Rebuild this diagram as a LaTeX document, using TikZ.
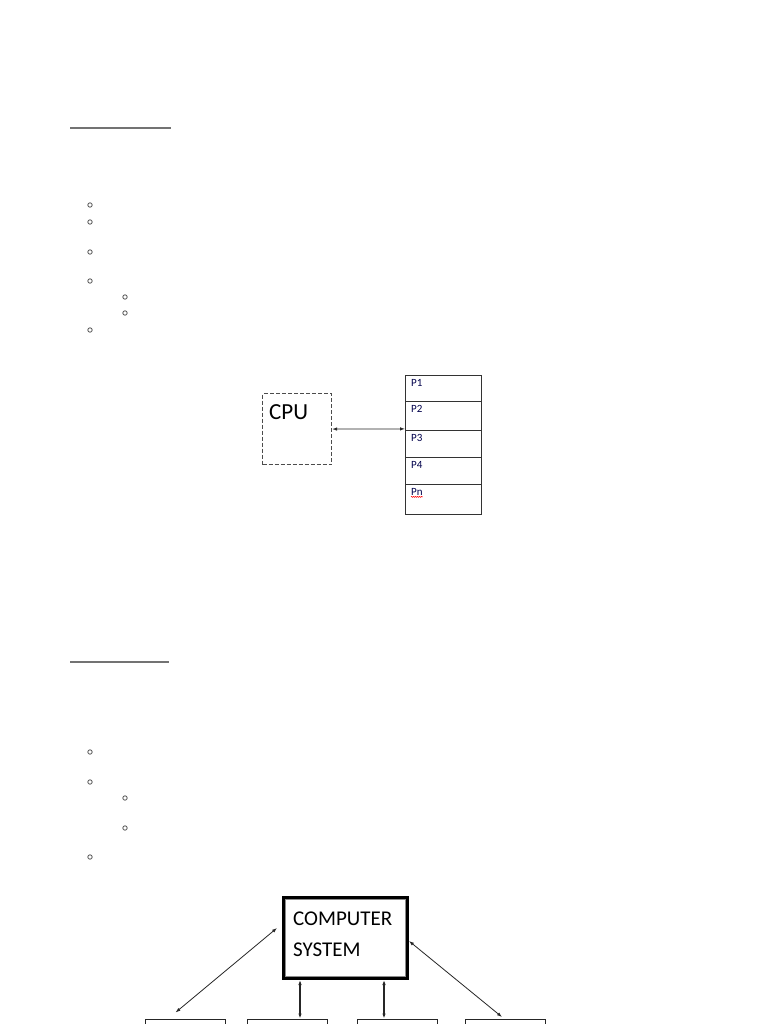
\documentclass[tikz,border=0pt]{standalone}
\usepackage{fontspec}
\setmainfont{Carlito}
\usetikzlibrary{arrows.meta, positioning, decorations.pathmorphing}
\tikzset{>={Latex[length=5pt,width=3.5pt]}}
\usepackage{xcolor}
\colorlet{celltext}{blue!30!black}
\tikzstyle{headrule}=[draw=black!55, line width=1.5]
\tikzstyle{bulletmark}=[draw=black!65, line width=0.8]
\tikzstyle{cpubox}=[draw=black!70, dashed, dash pattern=on 4pt off 2pt, line width=1.1, minimum width=69, minimum height=71, anchor=north west, inner sep=0]
\tikzstyle{cell}=[draw=black!80, line width=0.9, minimum width=76, anchor=north west, inner sep=0]
\tikzstyle{celllabel}=[inner sep=0, text=celltext, font=\fontsize{11}{12}\selectfont]
\tikzstyle{sysbox}=[draw=black, line width=3, minimum width=124, minimum height=81, anchor=north west, align=left, font=\fontsize{21}{31}\selectfont]
\tikzstyle{devbox}=[draw=black!85, line width=1, minimum width=80, minimum height=24, anchor=north west]
\tikzstyle{link}=[<->, draw=black!85, line width=0.8]

\begin{document}
\begin{tikzpicture}[x=1pt, y=-1pt]
		\fill[white] (0,0) rectangle (768,1024);
		\useasboundingbox (0,0) rectangle (768,1024);
		
		% first section
		\draw[headrule] (70,128) -- (171,128);
		\foreach \y in {205,222,252,281,330} \draw[bulletmark] (90,\y) circle (2.2);
		\foreach \y in {297,313} \draw[bulletmark] (125,\y) circle (2.2);
		
		\node[cpubox] (cpu) at (262,393) {};
		\node[anchor=north west, inner sep=0, font=\fontsize{23}{26}\selectfont] (cpulabel) at (269,404) {CPU};
		
		\foreach \name/\lab/\celltop/\cellh in {p1/P1/375/26, p2/P2/401/29, p3/P3/430/27, p4/P4/457/27, pn/Pn/484/30}{
			\node[cell, minimum height=\cellh] (\name) at (405,\celltop) {};
			\node[celllabel, below right=4pt and 6pt of \name.north west] (\name-label) {\lab};
		}
		\draw[red, line width=0.5, decorate, decoration={snake, amplitude=0.5pt, segment length=2pt}] ([yshift=-1.5pt]pn-label.south west) -- ([yshift=-1.5pt]pn-label.south east);
		
		\draw[link] (cpu.east) -- ([yshift=2pt]p2.south west);
		
		% second section
		\draw[headrule] (70,662) -- (169,662);
		\foreach \y in {752,782,857} \draw[bulletmark] (90,\y) circle (2.2);
		\foreach \y in {798,828} \draw[bulletmark] (125,\y) circle (2.2);
		
		\node[sysbox] (sys) at (282,896) {};
		\node[anchor=north west, inner sep=0, align=left, font=\fontsize{21}{31}\selectfont] (systext) at (293,912) {COMPUTER\\SYSTEM};
		\draw[black!45, line width=0.6] ([shift={(3.5,3.5)}]sys.north west) rectangle ([shift={(-3.5,-3.5)}]sys.south east);
		
		\node[devbox] (dev1) at (145,1018.5) {};
		\node[devbox] (dev2) at (247,1018.5) {};
		\node[devbox] (dev3) at (357,1018.5) {};
		\node[devbox] (dev4) at (465,1018.5) {};
		
		\draw[link] ([shift={(-5,32)}]sys.north west) -- ([shift={(-10,-6)}]dev1.north);
		\draw[link, line width=1.2] ([xshift=18pt]sys.south west) -- ([xshift=18pt]sys.south west |- dev2.north);
		\draw[link, line width=1.2] ([xshift=-25pt]sys.south east) -- ([xshift=-25pt]sys.south east |- dev3.north);
		\draw[link] ([yshift=-3pt]sys.east) -- ([shift={(-3.5,-1.5)}]dev4.north);
	\end{tikzpicture}
\end{document}
